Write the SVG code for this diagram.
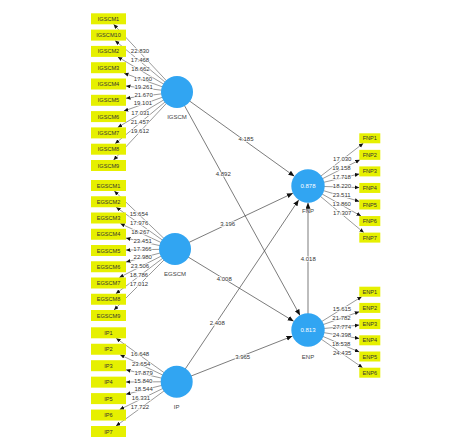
<svg xmlns="http://www.w3.org/2000/svg" width="474" height="445" viewBox="0 0 474 445">
<style>
.ind{fill:#e6f000}
.it{font-family:"Liberation Sans",Arial,sans-serif;font-size:5.6px;fill:#333;text-anchor:middle}
.lv{fill:#31a5f2}
.lt{font-family:"Liberation Sans",Arial,sans-serif;font-size:6px;fill:#444;text-anchor:middle}
.rt{font-family:"Liberation Sans",Arial,sans-serif;font-size:6px;fill:#fff;text-anchor:middle}
.v{font-family:"Liberation Sans",Arial,sans-serif;font-size:6px;fill:#333;text-anchor:middle;stroke:#fff;stroke-width:1.4px;paint-order:stroke}
.il{stroke:#555;stroke-width:0.6;fill:none;marker-end:url(#a)}
.sl{stroke:#444;stroke-width:0.7;fill:none;marker-end:url(#b)}
</style>
<defs>
<marker id="a" markerUnits="userSpaceOnUse" markerWidth="5" markerHeight="5" refX="4.5" refY="2" orient="auto"><path d="M0,0 L4.5,2 L0,4 z" fill="#111"/></marker>
<marker id="b" markerUnits="userSpaceOnUse" markerWidth="7" markerHeight="6" refX="6" refY="2.5" orient="auto"><path d="M0,0 L6,2.5 L0,5 z" fill="#111"/></marker>
</defs>
<rect width="474" height="445" fill="#fff"/>
<g id="connectors">
<line class="il" x1="177" y1="92" x2="113.6" y2="24.3"/>
<line class="il" x1="177" y1="92" x2="115.1" y2="40.6"/>
<line class="il" x1="177" y1="92" x2="117.8" y2="56.9"/>
<line class="il" x1="177" y1="92" x2="124" y2="73.2"/>
<line class="il" x1="177" y1="92" x2="126" y2="86"/>
<line class="il" x1="177" y1="92" x2="126" y2="98.2"/>
<line class="il" x1="177" y1="92" x2="123.8" y2="111.1"/>
<line class="il" x1="177" y1="92" x2="117.7" y2="127.4"/>
<line class="il" x1="177" y1="92" x2="115.1" y2="143.7"/>
<line class="il" x1="177" y1="92" x2="113.6" y2="160"/>
<line class="il" x1="175" y1="249" x2="114.3" y2="191"/>
<line class="il" x1="175" y1="249" x2="116.2" y2="207.25"/>
<line class="il" x1="175" y1="249" x2="120.3" y2="223.5"/>
<line class="il" x1="175" y1="249" x2="126" y2="238.1"/>
<line class="il" x1="175" y1="249" x2="126" y2="250.1"/>
<line class="il" x1="175" y1="249" x2="126" y2="262.1"/>
<line class="il" x1="175" y1="249" x2="119.3" y2="277.5"/>
<line class="il" x1="175" y1="249" x2="115.8" y2="293.75"/>
<line class="il" x1="175" y1="249" x2="114" y2="310"/>
<line class="il" x1="176.7" y1="381.7" x2="116.2" y2="338.3"/>
<line class="il" x1="176.7" y1="381.7" x2="120.1" y2="354.75"/>
<line class="il" x1="176.7" y1="381.7" x2="126" y2="369.8"/>
<line class="il" x1="176.7" y1="381.7" x2="126" y2="382"/>
<line class="il" x1="176.7" y1="381.7" x2="126" y2="394.3"/>
<line class="il" x1="176.7" y1="381.7" x2="119.7" y2="409.55"/>
<line class="il" x1="176.7" y1="381.7" x2="116" y2="426"/>
<line class="il" x1="308" y1="186" x2="363.3" y2="143.3"/>
<line class="il" x1="308" y1="186" x2="359.9" y2="159.85"/>
<line class="il" x1="308" y1="186" x2="359.3" y2="173.9"/>
<line class="il" x1="308" y1="186" x2="359.3" y2="187.6"/>
<line class="il" x1="308" y1="186" x2="359.3" y2="201.4"/>
<line class="il" x1="308" y1="186" x2="361" y2="216.05"/>
<line class="il" x1="308" y1="186" x2="363.8" y2="232.6"/>
<line class="il" x1="308" y1="330" x2="361.7" y2="296.7"/>
<line class="il" x1="308" y1="330" x2="359.3" y2="311.7"/>
<line class="il" x1="308" y1="330" x2="359.3" y2="325.1"/>
<line class="il" x1="308" y1="330" x2="359.3" y2="338.5"/>
<line class="il" x1="308" y1="330" x2="359.3" y2="352"/>
<line class="il" x1="308" y1="330" x2="362.6" y2="367.7"/>
<line class="sl" x1="177" y1="92" x2="294.4" y2="176.3"/>
<line class="sl" x1="177" y1="92" x2="300" y2="315.4"/>
<line class="sl" x1="175" y1="249" x2="292.9" y2="193.2"/>
<line class="sl" x1="175" y1="249" x2="293.7" y2="321.3"/>
<line class="sl" x1="176.7" y1="381.7" x2="298.7" y2="199.9"/>
<line class="sl" x1="176.7" y1="381.7" x2="292.5" y2="336.1"/>
<line class="sl" x1="308" y1="330" x2="308" y2="202.7"/>
<text class="v" x="140" y="53.3">22.830</text>
<text class="v" x="140" y="62.2">17.468</text>
<text class="v" x="140.5" y="71.4">18.662</text>
<text class="v" x="143" y="81">17.160</text>
<text class="v" x="143.6" y="89.1">19.261</text>
<text class="v" x="143.6" y="97.1">21.670</text>
<text class="v" x="142.9" y="105.3">19.101</text>
<text class="v" x="140.5" y="114.6">17.031</text>
<text class="v" x="139.9" y="123.8">21.457</text>
<text class="v" x="139.9" y="132.7">19.612</text>
<text class="v" x="138.9" y="215.5">15.654</text>
<text class="v" x="139.1" y="224.5">17.976</text>
<text class="v" x="140.4" y="233.9">18.267</text>
<text class="v" x="142.7" y="242.8">23.451</text>
<text class="v" x="142.5" y="250.7">17.366</text>
<text class="v" x="142.8" y="258.6">22.980</text>
<text class="v" x="140" y="267.7">23.506</text>
<text class="v" x="139" y="276.9">18.786</text>
<text class="v" x="138.9" y="286">17.012</text>
<text class="v" x="140" y="356.3">16.648</text>
<text class="v" x="141.2" y="365.6">23.654</text>
<text class="v" x="143.6" y="374.7">17.879</text>
<text class="v" x="143.3" y="382.7">15.840</text>
<text class="v" x="143.6" y="390.9">18.544</text>
<text class="v" x="141" y="399.9">16.331</text>
<text class="v" x="139.9" y="409.4">17.722</text>
<text class="v" x="342.3" y="160.8">17.030</text>
<text class="v" x="341.4" y="170.2">19.158</text>
<text class="v" x="341.8" y="179">17.718</text>
<text class="v" x="342" y="188">18.220</text>
<text class="v" x="341.7" y="197">23.511</text>
<text class="v" x="341.8" y="205.9">13.860</text>
<text class="v" x="342.3" y="215.3">17.307</text>
<text class="v" x="342" y="311">15.615</text>
<text class="v" x="341.5" y="319.8">21.782</text>
<text class="v" x="342" y="328.6">27.774</text>
<text class="v" x="341.9" y="337.4">24.398</text>
<text class="v" x="341.3" y="346">18.538</text>
<text class="v" x="342.2" y="354.6">24.435</text>
<text class="v" x="246" y="141.3">4.185</text>
<text class="v" x="223.3" y="176">4.892</text>
<text class="v" x="227.7" y="226.3">3.196</text>
<text class="v" x="224.3" y="281.3">4.008</text>
<text class="v" x="217.3" y="324.7">2.408</text>
<text class="v" x="242.7" y="358.7">3.965</text>
<text class="v" x="308.3" y="261">4.018</text>
</g>
<g id="IGSCM"><circle class="lv" cx="177" cy="92" r="16"/><text class="lt" x="177" y="119">IGSCM</text></g>
<g id="EGSCM"><circle class="lv" cx="175" cy="249" r="16"/><text class="lt" x="175" y="276">EGSCM</text></g>
<g id="IP"><circle class="lv" cx="176.7" cy="381.7" r="16"/><text class="lt" x="176.7" y="409">IP</text></g>
<g id="FNP"><circle class="lv" cx="308" cy="186" r="16.7"/><text class="rt" x="308" y="188">0.878</text><text class="lt" x="308" y="213">FNP</text></g>
<g id="ENP"><circle class="lv" cx="308" cy="330" r="16.7"/><text class="rt" x="308" y="332">0.813</text><text class="lt" x="308" y="359">ENP</text></g>
<g id="IGSCM1"><rect class="ind" x="91" y="13.3" width="35" height="11"/><text class="it" x="108.5" y="20.8">IGSCM1</text></g>
<g id="IGSCM10"><rect class="ind" x="91" y="29.6" width="35" height="11"/><text class="it" x="108.5" y="37.1">IGSCM10</text></g>
<g id="IGSCM2"><rect class="ind" x="91" y="45.9" width="35" height="11"/><text class="it" x="108.5" y="53.4">IGSCM2</text></g>
<g id="IGSCM3"><rect class="ind" x="91" y="62.2" width="35" height="11"/><text class="it" x="108.5" y="69.7">IGSCM3</text></g>
<g id="IGSCM4"><rect class="ind" x="91" y="78.5" width="35" height="11"/><text class="it" x="108.5" y="86">IGSCM4</text></g>
<g id="IGSCM5"><rect class="ind" x="91" y="94.8" width="35" height="11"/><text class="it" x="108.5" y="102.3">IGSCM5</text></g>
<g id="IGSCM6"><rect class="ind" x="91" y="111.1" width="35" height="11"/><text class="it" x="108.5" y="118.6">IGSCM6</text></g>
<g id="IGSCM7"><rect class="ind" x="91" y="127.4" width="35" height="11"/><text class="it" x="108.5" y="134.9">IGSCM7</text></g>
<g id="IGSCM8"><rect class="ind" x="91" y="143.7" width="35" height="11"/><text class="it" x="108.5" y="151.2">IGSCM8</text></g>
<g id="IGSCM9"><rect class="ind" x="91" y="160" width="35" height="11"/><text class="it" x="108.5" y="167.5">IGSCM9</text></g>
<g id="EGSCM1"><rect class="ind" x="91" y="180" width="35" height="11"/><text class="it" x="108.5" y="187.5">EGSCM1</text></g>
<g id="EGSCM2"><rect class="ind" x="91" y="196.25" width="35" height="11"/><text class="it" x="108.5" y="203.75">EGSCM2</text></g>
<g id="EGSCM3"><rect class="ind" x="91" y="212.5" width="35" height="11"/><text class="it" x="108.5" y="220">EGSCM3</text></g>
<g id="EGSCM4"><rect class="ind" x="91" y="228.75" width="35" height="11"/><text class="it" x="108.5" y="236.25">EGSCM4</text></g>
<g id="EGSCM5"><rect class="ind" x="91" y="245" width="35" height="11"/><text class="it" x="108.5" y="252.5">EGSCM5</text></g>
<g id="EGSCM6"><rect class="ind" x="91" y="261.25" width="35" height="11"/><text class="it" x="108.5" y="268.75">EGSCM6</text></g>
<g id="EGSCM7"><rect class="ind" x="91" y="277.5" width="35" height="11"/><text class="it" x="108.5" y="285">EGSCM7</text></g>
<g id="EGSCM8"><rect class="ind" x="91" y="293.75" width="35" height="11"/><text class="it" x="108.5" y="301.25">EGSCM8</text></g>
<g id="EGSCM9"><rect class="ind" x="91" y="310" width="35" height="11"/><text class="it" x="108.5" y="317.5">EGSCM9</text></g>
<g id="IP1"><rect class="ind" x="91" y="327.3" width="35" height="11"/><text class="it" x="108.5" y="334.8">IP1</text></g>
<g id="IP2"><rect class="ind" x="91" y="343.75" width="35" height="11"/><text class="it" x="108.5" y="351.25">IP2</text></g>
<g id="IP3"><rect class="ind" x="91" y="360.2" width="35" height="11"/><text class="it" x="108.5" y="367.7">IP3</text></g>
<g id="IP4"><rect class="ind" x="91" y="376.65" width="35" height="11"/><text class="it" x="108.5" y="384.15">IP4</text></g>
<g id="IP5"><rect class="ind" x="91" y="393.1" width="35" height="11"/><text class="it" x="108.5" y="400.6">IP5</text></g>
<g id="IP6"><rect class="ind" x="91" y="409.55" width="35" height="11"/><text class="it" x="108.5" y="417.05">IP6</text></g>
<g id="IP7"><rect class="ind" x="91" y="426" width="35" height="11"/><text class="it" x="108.5" y="433.5">IP7</text></g>
<g id="FNP1"><rect class="ind" x="359.3" y="133.3" width="21" height="10"/><text class="it" x="369.8" y="140.3">FNP1</text></g>
<g id="FNP2"><rect class="ind" x="359.3" y="149.85" width="21" height="10"/><text class="it" x="369.8" y="156.85">FNP2</text></g>
<g id="FNP3"><rect class="ind" x="359.3" y="166.4" width="21" height="10"/><text class="it" x="369.8" y="173.4">FNP3</text></g>
<g id="FNP4"><rect class="ind" x="359.3" y="182.95" width="21" height="10"/><text class="it" x="369.8" y="189.95">FNP4</text></g>
<g id="FNP5"><rect class="ind" x="359.3" y="199.5" width="21" height="10"/><text class="it" x="369.8" y="206.5">FNP5</text></g>
<g id="FNP6"><rect class="ind" x="359.3" y="216.05" width="21" height="10"/><text class="it" x="369.8" y="223.05">FNP6</text></g>
<g id="FNP7"><rect class="ind" x="359.3" y="232.6" width="21" height="10"/><text class="it" x="369.8" y="239.6">FNP7</text></g>
<g id="ENP1"><rect class="ind" x="359.3" y="286.7" width="21" height="10"/><text class="it" x="369.8" y="293.7">ENP1</text></g>
<g id="ENP2"><rect class="ind" x="359.3" y="302.9" width="21" height="10"/><text class="it" x="369.8" y="309.9">ENP2</text></g>
<g id="ENP3"><rect class="ind" x="359.3" y="319.1" width="21" height="10"/><text class="it" x="369.8" y="326.1">ENP3</text></g>
<g id="ENP4"><rect class="ind" x="359.3" y="335.3" width="21" height="10"/><text class="it" x="369.8" y="342.3">ENP4</text></g>
<g id="ENP5"><rect class="ind" x="359.3" y="351.5" width="21" height="10"/><text class="it" x="369.8" y="358.5">ENP5</text></g>
<g id="ENP6"><rect class="ind" x="359.3" y="367.7" width="21" height="10"/><text class="it" x="369.8" y="374.7">ENP6</text></g>
</svg>
